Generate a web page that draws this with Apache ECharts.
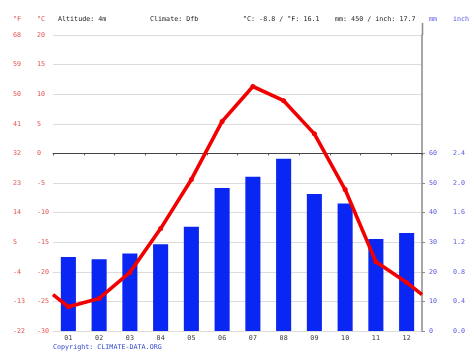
<!DOCTYPE html>
<html>
<head>
<meta charset="utf-8">
<script src="https://cdn.jsdelivr.net/npm/echarts@6/dist/echarts.min.js"></script>
<style>
html,body{margin:0;padding:0;background:#fff;}
#c{width:474px;height:355px;}
</style>
</head>
<body>
<div id="c"></div>
<script>
const months = ['01','02','03','04','05','06','07','08','09','10','11','12'];
const tempC = [-25.9, -24.5, -20.1, -12.7, -4.4, 5.4, 11.3, 8.9, 3.3, -6.1, -18.3, -21.8];
const precipMm = [25.0, 24.2, 26.2, 29.3, 35.2, 48.3, 52.1, 58.2, 46.3, 43.1, 31.1, 33.1];
const mmTicks = [0, 10, 20, 30, 40, 50, 60];
const headerTexts = ['Altitude: 4m', 'Climate: Dfb', '°C: -8.8 / °F: 16.1', 'mm: 450 / inch: 17.7'];

const FONT = "'DejaVu Sans Mono', 'Liberation Mono', monospace";
const FS = 6.7;
const RED = '#e2504f';
const BLUE = '#5555e0';

// line wraps around the year at the plot edges (midpoint of Dec and Jan)
const edge = (tempC[0] + tempC[11]) / 2;
const lineData = [{value: [0, edge], symbol: 'none'}]
  .concat(tempC.map((t, i) => ({value: [i + 0.5, t]})))
  .concat([{value: [12, edge], symbol: 'none'}]);

const chart = echarts.init(document.getElementById('c'), null, {renderer: 'canvas'});
chart.setOption({
  animation: false,
  backgroundColor: '#fff',
  grid: {left: 53, right: 52, top: 35, bottom: 24, containLabel: false},
  xAxis: [
    {
      type: 'category', data: months, boundaryGap: true,
      axisLine: {show: true, lineStyle: {color: '#555', width: 1}},
      axisTick: {show: true, interval: 0, length: 2, lineStyle: {color: '#555'}},
      axisLabel: {color: '#333', fontSize: FS, fontFamily: FONT, margin: 4, interval: 0},
      splitLine: {show: false}
    },
    {type: 'value', min: 0, max: 12, show: false}
  ],
  yAxis: [
    {
      type: 'value', position: 'left', min: -30, max: 20, interval: 5,
      axisLine: {show: false}, axisTick: {show: false},
      axisLabel: {color: RED, fontSize: FS, fontFamily: FONT, align: 'left', margin: 16},
      splitLine: {show: true, lineStyle: {color: '#dcdcdc', width: 1}}
    },
    {
      type: 'value', position: 'left', min: -30, max: 20, interval: 5,
      axisLine: {show: false}, axisTick: {show: false},
      axisLabel: {color: RED, fontSize: FS, fontFamily: FONT, align: 'left', margin: 40,
        formatter: v => String(Math.round(v * 9 / 5 + 32))},
      splitLine: {show: false}
    },
    {
      type: 'value', position: 'right', min: 0, max: 100, interval: 10,
      axisLine: {show: true, lineStyle: {color: '#8a8a8a', width: 1.5}},
      axisTick: {show: true, customValues: mmTicks, length: 3, lineStyle: {color: '#8a8a8a'}},
      axisLabel: {customValues: mmTicks, color: BLUE, fontSize: FS, fontFamily: FONT, align: 'left', margin: 7},
      splitLine: {show: false}
    },
    {
      type: 'value', position: 'right', min: 0, max: 100, interval: 10,
      axisLine: {show: false}, axisTick: {show: false},
      axisLabel: {customValues: mmTicks, color: BLUE, fontSize: FS, fontFamily: FONT, align: 'left', margin: 31,
        formatter: v => (v * 0.04).toFixed(1)},
      splitLine: {show: false}
    }
  ],
  series: [
    {
      type: 'bar', xAxisIndex: 0, yAxisIndex: 2, data: precipMm,
      barWidth: '49%', itemStyle: {color: '#0a26f2'}, z: 2
    },
    {
      type: 'line', xAxisIndex: 1, yAxisIndex: 0, data: lineData,
      symbol: 'circle', symbolSize: 5,
      lineStyle: {color: '#f20000', width: 3.6},
      itemStyle: {color: '#f20000'}, z: 5,
      markLine: {
        silent: true, symbol: 'none', label: {show: false},
        lineStyle: {color: '#444', width: 1, type: 'solid'},
        data: [{yAxis: 0}], z: 3
      }
    }
  ],
  graphic: [
    {type: 'line', shape: {x1: 422.5, y1: 23, x2: 422.5, y2: 35}, style: {stroke: '#8a8a8a', lineWidth: 1.5}, silent: true},
    {type: 'text', left: 13, top: 16, style: {text: '°F', fill: RED, font: FS + 'px ' + FONT}},
    {type: 'text', left: 37, top: 16, style: {text: '°C', fill: RED, font: FS + 'px ' + FONT}},
    {type: 'text', left: 58, top: 16, style: {text: headerTexts[0], fill: '#222', font: FS + 'px ' + FONT}},
    {type: 'text', left: 150, top: 16, style: {text: headerTexts[1], fill: '#222', font: FS + 'px ' + FONT}},
    {type: 'text', left: 243, top: 16, style: {text: headerTexts[2], fill: '#222', font: FS + 'px ' + FONT}},
    {type: 'text', left: 335, top: 16, style: {text: headerTexts[3], fill: '#222', font: FS + 'px ' + FONT}},
    {type: 'text', left: 429, top: 16, style: {text: 'mm', fill: BLUE, font: FS + 'px ' + FONT}},
    {type: 'text', left: 453, top: 16, style: {text: 'inch', fill: BLUE, font: FS + 'px ' + FONT}},
    {type: 'text', left: 53, top: 344, style: {text: 'Copyright: CLIMATE-DATA.ORG', fill: '#3347cc', font: FS + 'px ' + FONT}}
  ]
});
</script>
</body>
</html>
